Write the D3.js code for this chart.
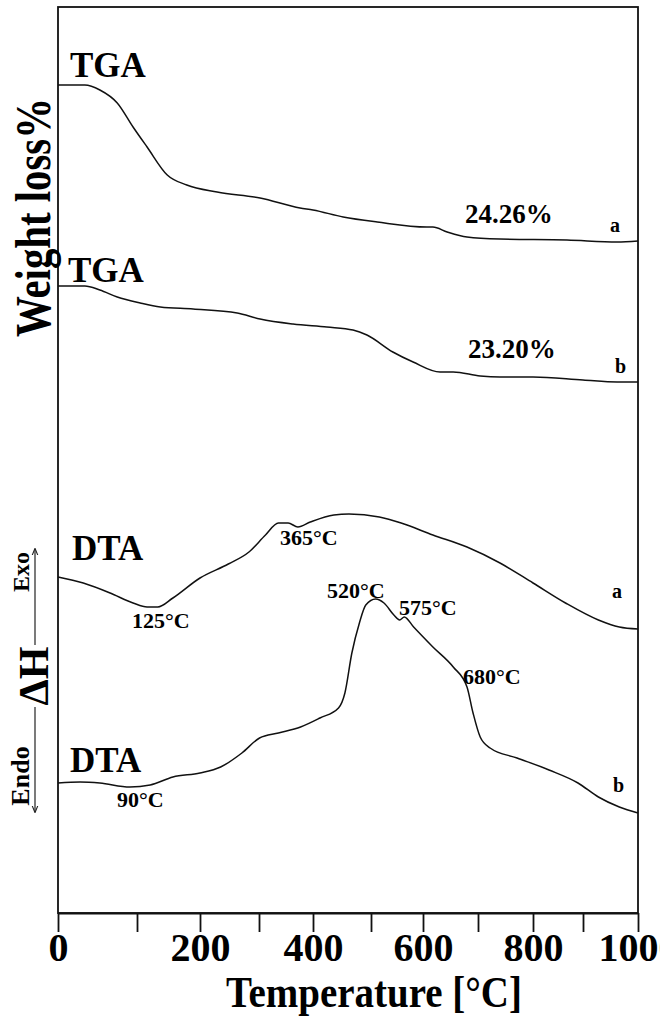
<!DOCTYPE html>
<html>
<head>
<meta charset="utf-8">
<script src="https://cdn.jsdelivr.net/npm/d3@7"></script>
<style>
  html, body { margin: 0; padding: 0; background: #fff; }
  svg { display: block; }
  text { font-family: "Liberation Serif", "Times New Roman", serif; font-weight: bold; fill: #000; }
</style>
</head>
<body>
<svg id="chart" width="660" height="1023"></svg>
<script>
// ---------------- DATA (temperature °C, signal in arbitrary units) ----------------
const majorTicks = [0, 200, 400, 600, 800, 1000];
const minorTicks = [100, 300, 500, 700, 900];

const tgaA_T = [0, 34, 53, 75, 95, 116, 148, 179, 229, 302, 376, 400, 452, 512, 607, 618, 644, 680, 740, 868, 962, 1000];
const tgaA_V = [828, 828, 823, 810, 786, 766, 738, 728, 721, 715, 705, 703, 696, 691, 686, 686, 681, 676, 674, 673, 671, 672];

const tgaB_T = [0, 34, 53, 75, 105, 137, 189, 263, 302, 363, 424, 469, 493, 542, 581, 631, 655, 704, 740, 800, 900, 962, 1000];
const tgaB_V = [627, 627, 623, 616, 610, 606, 604, 600, 594, 589, 586, 583, 578, 561, 551, 541, 541, 537, 536, 536, 533, 531, 531];

const dtaA_T = [0, 32, 66, 95, 116, 133, 157, 200, 248, 283, 312, 336, 354, 372, 395, 436, 462, 516, 558, 618, 680, 740, 800, 865, 928, 966, 1000];
const dtaA_V = [336, 330, 320, 310, 306, 306, 315, 335, 349, 361, 378, 390, 390, 386, 391, 398, 399, 396, 390, 378, 366, 350, 330, 310, 293, 286, 284];

const dtaB_T = [0, 28, 53, 91, 121, 157, 200, 235, 271, 301, 336, 377, 412, 444, 455, 467, 480, 491, 509, 525, 544, 555, 564, 582, 618, 655, 680, 691, 704, 722, 771, 832, 890, 928, 966, 1000];
const dtaB_V = [130, 131, 130, 126, 128, 136, 140, 146, 160, 175, 180, 186, 195, 205, 220, 260, 290, 308, 314, 310, 298, 293, 296, 286, 266, 246, 226, 200, 176, 165, 155, 143, 130, 116, 106, 100];

const seriesNames = ["TGA a", "TGA b", "DTA a", "DTA b"];

// ---------------- CHART ----------------
const svg = d3.select("#chart");
const mLeft = 58, mRight = 638, mTop = 7, mBottom = 913;

// axis as printed: tick positions are not evenly spaced
const x = d3.scaleLinear()
  .domain([0, 100, 200, 300, 400, 500, 600, 700, 800, 900, 1000])
  .range([mLeft, 137, 200, 259, 313, 371, 423, 478, 533, 583, mRight]);
const y = d3.scaleLinear().domain([0, mBottom - mTop]).range([mBottom, mTop]);

// frame
svg.append("rect")
  .attr("x", mLeft).attr("y", mTop)
  .attr("width", mRight - mLeft).attr("height", mBottom - mTop)
  .attr("fill", "none").attr("stroke", "#111").attr("stroke-width", 1.8);

// x axis
const gx = svg.append("g").attr("transform", `translate(0,${mBottom})`);
gx.call(d3.axisBottom(x).tickValues(majorTicks).tickSize(19).tickSizeOuter(0).tickFormat(d3.format("d")));
gx.select(".domain").attr("stroke", "#111").attr("stroke-width", 1.8);
gx.selectAll(".tick line").attr("stroke", "#111").attr("stroke-width", 1.8);
gx.selectAll(".tick text")
  .attr("y", 48).attr("dy", null)
  .style("font-family", "'Liberation Serif', serif")
  .style("font-weight", "bold")
  .style("font-size", "40px")
  .attr("fill", "#000");

const gxm = svg.append("g").attr("transform", `translate(0,${mBottom})`);
gxm.call(d3.axisBottom(x).tickValues(minorTicks).tickSize(19).tickFormat(""));
gxm.select(".domain").remove();
gxm.selectAll(".tick line").attr("stroke", "#111").attr("stroke-width", 1.8);

// x axis title
svg.append("text")
  .attr("x", 226).attr("y", 1007)
  .attr("textLength", 296).attr("lengthAdjust", "spacingAndGlyphs")
  .style("font-size", "44px")
  .text("Temperature [°C]");

// y axis title
svg.append("text")
  .attr("transform", "translate(50,337) rotate(-90)")
  .attr("textLength", 239).attr("lengthAdjust", "spacingAndGlyphs")
  .style("font-size", "50px")
  .text("Weight loss%");

// ΔH exo/endo indicator
const defs = svg.append("defs");
defs.append("marker")
  .attr("id", "arr").attr("viewBox", "0 0 10 10")
  .attr("refX", 9).attr("refY", 5)
  .attr("markerWidth", 6).attr("markerHeight", 6)
  .attr("orient", "auto")
  .append("path").attr("d", "M0,1 L10,5 L0,9").attr("fill", "none").attr("stroke", "#222").attr("stroke-width", 1.5);

svg.append("line").attr("x1", 35).attr("x2", 35).attr("y1", 645).attr("y2", 549)
  .attr("stroke", "#222").attr("stroke-width", 1.2).attr("marker-end", "url(#arr)");
svg.append("line").attr("x1", 35).attr("x2", 35).attr("y1", 707).attr("y2", 812)
  .attr("stroke", "#222").attr("stroke-width", 1.2).attr("marker-end", "url(#arr)");

svg.append("text").attr("transform", "translate(29,572) rotate(-90)")
  .attr("text-anchor", "middle").style("font-size", "24px").text("Exo");
svg.append("text").attr("transform", "translate(29,776) rotate(-90)")
  .attr("text-anchor", "middle").style("font-size", "26px").text("Endo");
svg.append("text").attr("transform", "translate(48,676) rotate(-90)")
  .attr("text-anchor", "middle").style("font-size", "42px").text("ΔH");

// curves
const line = d3.line()
  .x(d => x(d[0]))
  .y(d => y(d[1]))
  .curve(d3.curveMonotoneX);

const series = [
  [tgaA_T, tgaA_V],
  [tgaB_T, tgaB_V],
  [dtaA_T, dtaA_V],
  [dtaB_T, dtaB_V]
].map((s, i) => ({ name: seriesNames[i], pts: d3.zip(s[0], s[1]) }));

svg.append("g").selectAll("path")
  .data(series)
  .join("path")
  .attr("d", d => line(d.pts))
  .attr("fill", "none")
  .attr("stroke", "#111")
  .attr("stroke-width", 1.5)
  .attr("stroke-linejoin", "round");

// annotations
const labels = [
  { t: "TGA", x: 70, y: 77, s: 35 },
  { t: "TGA", x: 68, y: 282, s: 35 },
  { t: "DTA", x: 72, y: 560, s: 35 },
  { t: "DTA", x: 70, y: 772, s: 35 },
  { t: "24.26%", x: 465, y: 223, s: 27 },
  { t: "a", x: 610, y: 232, s: 20 },
  { t: "23.20%", x: 468, y: 358, s: 27 },
  { t: "b", x: 615, y: 373, s: 20 },
  { t: "125°C", x: 132, y: 628, s: 22 },
  { t: "90°C", x: 117, y: 807, s: 22 },
  { t: "365°C", x: 280, y: 545, s: 22 },
  { t: "520°C", x: 327, y: 598, s: 22 },
  { t: "575°C", x: 399, y: 615, s: 22 },
  { t: "680°C", x: 463, y: 684, s: 22 },
  { t: "a", x: 612, y: 598, s: 20 },
  { t: "b", x: 613, y: 792, s: 20 }
];
svg.append("g").selectAll("text")
  .data(labels)
  .join("text")
  .attr("x", d => d.x).attr("y", d => d.y)
  .style("font-size", d => d.s + "px")
  .text(d => d.t);
</script>
</body>
</html>
